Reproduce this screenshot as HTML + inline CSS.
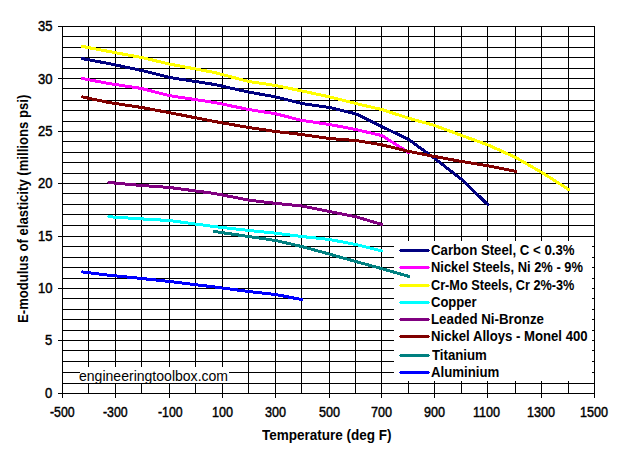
<!DOCTYPE html>
<html><head><meta charset="utf-8"><style>
html,body{margin:0;padding:0;background:#fff;}
body{width:626px;height:461px;position:relative;overflow:hidden;font-family:"Liberation Sans",sans-serif;color:#000;}
svg{position:absolute;left:0;top:0;}
.b,.r{position:absolute;font-size:14px;line-height:20px;white-space:nowrap;transform-origin:0 0;}
.b{font-weight:bold;}
.n{-webkit-text-stroke:0.45px #000;}
</style></head><body>
<svg width="626" height="461" shape-rendering="crispEdges">
<g fill="#000">
<rect x="62" y="26" width="533" height="1"/>
<rect x="62" y="36" width="533" height="1"/>
<rect x="62" y="47" width="533" height="1"/>
<rect x="62" y="57" width="533" height="1"/>
<rect x="62" y="68" width="533" height="1"/>
<rect x="62" y="78" width="533" height="1"/>
<rect x="62" y="88" width="533" height="1"/>
<rect x="62" y="100" width="533" height="1"/>
<rect x="62" y="110" width="533" height="1"/>
<rect x="62" y="121" width="533" height="1"/>
<rect x="62" y="131" width="533" height="1"/>
<rect x="62" y="141" width="533" height="1"/>
<rect x="62" y="152" width="533" height="1"/>
<rect x="62" y="162" width="533" height="1"/>
<rect x="62" y="173" width="533" height="1"/>
<rect x="62" y="183" width="533" height="1"/>
<rect x="62" y="193" width="533" height="1"/>
<rect x="62" y="204" width="533" height="1"/>
<rect x="62" y="214" width="533" height="1"/>
<rect x="62" y="225" width="533" height="1"/>
<rect x="62" y="236" width="533" height="1"/>
<rect x="62" y="246" width="533" height="1"/>
<rect x="62" y="257" width="533" height="1"/>
<rect x="62" y="267" width="533" height="1"/>
<rect x="62" y="278" width="533" height="1"/>
<rect x="62" y="288" width="533" height="1"/>
<rect x="62" y="298" width="533" height="1"/>
<rect x="62" y="309" width="533" height="1"/>
<rect x="62" y="319" width="533" height="1"/>
<rect x="62" y="330" width="533" height="1"/>
<rect x="62" y="340" width="533" height="1"/>
<rect x="62" y="350" width="533" height="1"/>
<rect x="62" y="361" width="533" height="1"/>
<rect x="62" y="372" width="533" height="1"/>
<rect x="62" y="383" width="533" height="1"/>
<rect x="62" y="393" width="533" height="1"/>
<rect x="62" y="26" width="1" height="368"/>
<rect x="88" y="26" width="1" height="368"/>
<rect x="115" y="26" width="1" height="368"/>
<rect x="141" y="26" width="1" height="368"/>
<rect x="169" y="26" width="1" height="368"/>
<rect x="195" y="26" width="1" height="368"/>
<rect x="222" y="26" width="1" height="368"/>
<rect x="248" y="26" width="1" height="368"/>
<rect x="275" y="26" width="1" height="368"/>
<rect x="301" y="26" width="1" height="368"/>
<rect x="329" y="26" width="1" height="368"/>
<rect x="355" y="26" width="1" height="368"/>
<rect x="381" y="26" width="1" height="368"/>
<rect x="408" y="26" width="1" height="368"/>
<rect x="434" y="26" width="1" height="368"/>
<rect x="461" y="26" width="1" height="368"/>
<rect x="487" y="26" width="1" height="368"/>
<rect x="515" y="26" width="1" height="368"/>
<rect x="541" y="26" width="1" height="368"/>
<rect x="568" y="26" width="1" height="368"/>
<rect x="594" y="26" width="1" height="368"/>
<rect x="58" y="393" width="4" height="1"/>
<rect x="58" y="340" width="4" height="1"/>
<rect x="58" y="288" width="4" height="1"/>
<rect x="58" y="236" width="4" height="1"/>
<rect x="58" y="183" width="4" height="1"/>
<rect x="58" y="131" width="4" height="1"/>
<rect x="58" y="78" width="4" height="1"/>
<rect x="58" y="26" width="4" height="1"/>
<rect x="62" y="394" width="1" height="4"/>
<rect x="115" y="394" width="1" height="4"/>
<rect x="169" y="394" width="1" height="4"/>
<rect x="222" y="394" width="1" height="4"/>
<rect x="275" y="394" width="1" height="4"/>
<rect x="329" y="394" width="1" height="4"/>
<rect x="381" y="394" width="1" height="4"/>
<rect x="434" y="394" width="1" height="4"/>
<rect x="487" y="394" width="1" height="4"/>
<rect x="541" y="394" width="1" height="4"/>
<rect x="594" y="394" width="1" height="4"/>
</g>
<rect x="80" y="367" width="149" height="16" fill="#fff"/>
<rect x="394" y="241" width="198" height="140" fill="#fff"/>
<g fill="#000080"><rect x="400" y="249" width="29" height="3"/><rect x="399" y="250" width="31" height="1"/></g>
<g fill="#FF00FF"><rect x="400" y="266" width="29" height="3"/><rect x="399" y="267" width="31" height="1"/></g>
<g fill="#FFFF00"><rect x="400" y="284" width="29" height="3"/><rect x="399" y="285" width="31" height="1"/></g>
<g fill="#00FFFF"><rect x="400" y="301" width="29" height="3"/><rect x="399" y="302" width="31" height="1"/></g>
<g fill="#800080"><rect x="400" y="318" width="29" height="3"/><rect x="399" y="319" width="31" height="1"/></g>
<g fill="#800000"><rect x="400" y="335" width="29" height="3"/><rect x="399" y="336" width="31" height="1"/></g>
<g fill="#008080"><rect x="400" y="354" width="29" height="3"/><rect x="399" y="355" width="31" height="1"/></g>
<g fill="#0000FF"><rect x="400" y="371" width="29" height="3"/><rect x="399" y="372" width="31" height="1"/></g>
<polyline points="82.20,58.60 108.95,63.55 141.70,70.50 169.70,77.50 214.60,84.50 248.70,92.10 275.70,96.90 301.70,103.50 329.70,107.50 355.70,113.80 381.70,126.50 408.70,139.50 434.70,158.50 461.70,179.50 487.70,204.50" fill="none" stroke="#000080" stroke-width="3" stroke-linejoin="round" stroke-linecap="round"/>
<polyline points="82.20,78.50 108.95,83.50 141.70,88.50 169.70,95.70 214.60,102.50 248.70,109.50 275.70,113.80 301.70,120.40 329.70,124.50 355.70,129.50 381.70,135.50 408.70,152.50" fill="none" stroke="#FF00FF" stroke-width="3" stroke-linejoin="round" stroke-linecap="round"/>
<polyline points="82.20,46.40 108.95,51.50 141.70,57.50 169.70,64.10 214.60,72.50 248.70,81.50 275.70,85.50 301.70,90.90 329.70,96.90 355.70,103.50 381.70,109.50 408.70,118.20 434.70,125.50 461.70,135.50 487.70,144.80 515.70,157.50 541.70,172.40 568.70,189.50" fill="none" stroke="#FFFF00" stroke-width="3" stroke-linejoin="round" stroke-linecap="round"/>
<polyline points="108.95,216.70 141.70,218.90 169.70,220.55 214.60,226.60 248.70,230.45 275.70,233.20 301.70,236.50 329.70,239.50 355.70,244.50 381.70,250.90" fill="none" stroke="#00FFFF" stroke-width="3" stroke-linejoin="round" stroke-linecap="round"/>
<polyline points="108.95,182.50 141.70,185.50 169.70,187.50 214.60,193.50 248.70,200.10 275.70,203.40 301.70,206.00 329.70,211.50 355.70,216.70 381.70,224.40" fill="none" stroke="#800080" stroke-width="3" stroke-linejoin="round" stroke-linecap="round"/>
<polyline points="82.20,96.90 108.95,102.50 141.70,107.50 169.70,112.70 214.60,121.50 248.70,127.50 275.70,131.50 301.70,134.50 329.70,138.50 355.70,140.50 381.70,144.80 408.70,151.40 434.70,156.50 461.70,161.50 487.70,165.80 515.70,171.30" fill="none" stroke="#800000" stroke-width="3" stroke-linejoin="round" stroke-linecap="round"/>
<polyline points="214.60,231.55 248.70,236.50 275.70,240.50 301.70,246.50 329.70,254.20 355.70,261.50 381.70,268.60 408.70,276.30" fill="none" stroke="#008080" stroke-width="3" stroke-linejoin="round" stroke-linecap="round"/>
<polyline points="82.20,271.90 108.95,275.20 141.70,278.50 169.70,281.50 214.60,287.00 248.70,291.50 275.70,294.50 301.70,299.60" fill="none" stroke="#0000FF" stroke-width="3" stroke-linejoin="round" stroke-linecap="round"/>
</svg>
<div class="b" style="left:431.06px;top:240px;transform:scaleX(0.9437)">Carbon Steel, C &lt; 0.3%</div>
<div class="b" style="left:431.08px;top:257px;transform:scaleX(0.9207)">Nickel Steels, Ni 2% - 9%</div>
<div class="b" style="left:431.09px;top:275px;transform:scaleX(0.9076)">Cr-Mo Steels, Cr 2%-3%</div>
<div class="b" style="left:431.07px;top:292px;transform:scaleX(0.9292)">Copper</div>
<div class="b" style="left:431.05px;top:309px;transform:scaleX(0.9492)">Leaded Ni-Bronze</div>
<div class="b" style="left:431.06px;top:326px;transform:scaleX(0.9388)">Nickel Alloys - Monel 400</div>
<div class="b" style="left:432.00px;top:345px;transform:scaleX(0.9439)">Titanium</div>
<div class="b" style="left:431.05px;top:362px;transform:scaleX(0.9451)">Aluminium</div>
<div class="r n" style="left:45.39px;top:383px;transform:scaleX(0.9300)">0</div>
<div class="r n" style="left:45.39px;top:330px;transform:scaleX(0.9300)">5</div>
<div class="r n" style="left:37.95px;top:278px;transform:scaleX(0.9300)">10</div>
<div class="r n" style="left:37.95px;top:226px;transform:scaleX(0.9300)">15</div>
<div class="r n" style="left:37.95px;top:173px;transform:scaleX(0.9300)">20</div>
<div class="r n" style="left:37.95px;top:121px;transform:scaleX(0.9300)">25</div>
<div class="r n" style="left:37.95px;top:69px;transform:scaleX(0.9300)">30</div>
<div class="r n" style="left:37.95px;top:16px;transform:scaleX(0.9300)">35</div>
<div class="r n" style="left:50.04px;top:402px;transform:scaleX(0.8800)">-500</div>
<div class="r n" style="left:103.04px;top:402px;transform:scaleX(0.8800)">-300</div>
<div class="r n" style="left:157.64px;top:402px;transform:scaleX(0.8800)">-100</div>
<div class="r n" style="left:212.00px;top:402px;transform:scaleX(0.9000)">100</div>
<div class="r n" style="left:264.90px;top:402px;transform:scaleX(0.9000)">300</div>
<div class="r n" style="left:319.00px;top:402px;transform:scaleX(0.9000)">500</div>
<div class="r n" style="left:371.10px;top:402px;transform:scaleX(0.9000)">700</div>
<div class="r n" style="left:423.70px;top:402px;transform:scaleX(0.9000)">900</div>
<div class="r n" style="left:473.35px;top:402px;transform:scaleX(0.9000)">1100</div>
<div class="r n" style="left:527.00px;top:402px;transform:scaleX(0.9000)">1300</div>
<div class="r n" style="left:579.90px;top:402px;transform:scaleX(0.9000)">1500</div>
<div class="b" style="left:262.00px;top:425px;transform:scaleX(0.9649)">Temperature (deg F)</div>
<div class="r" style="left:79.40px;top:366px;transform:scaleX(1.0027)">engineeringtoolbox.com</div>
<div class="b yt" style="left:13px;top:322.64px;transform:rotate(-90deg) scaleX(0.9376)">E-modulus of elasticity (millions psi)</div>
</body></html>
